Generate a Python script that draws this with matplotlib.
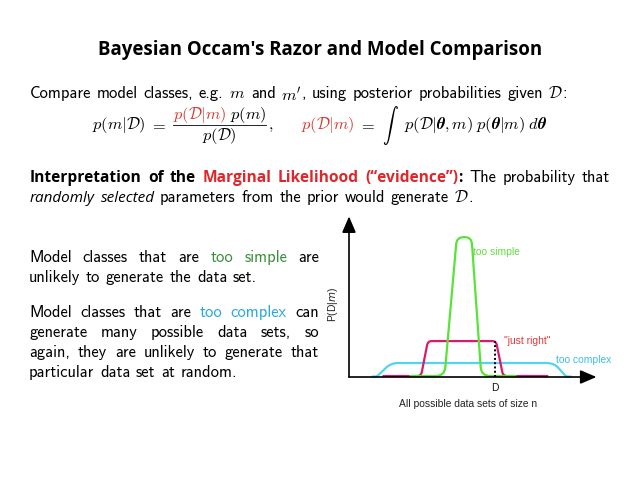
import matplotlib
matplotlib.use("Agg")
import matplotlib.pyplot as plt
from matplotlib.path import Path
from matplotlib.patches import PathPatch

W, H = 638, 493
plt.rcParams['mathtext.fontset'] = 'cm'

# sketch curves, corner points (x: data sets 0-100, y: P(D|m) 0-100)
simple_x = [25, 39, 44, 50, 54, 68]
simple_y = [0.6, 0.6, 88, 88, 0.6, 0.6]
right_x = [14, 29.4, 32.2, 60, 62.9, 81]
right_y = [0.6, 0.6, 22.6, 22.6, 0.6, 0.6]
complex_x = [9.5, 11.4, 17.1, 83.7, 88.6, 90.5]
complex_y = [0.3, 0.3, 8.8, 8.8, 0.3, 0.3]
data_x = 59.6

REG = dict(family='cmss10', fontsize=11.9)
MATH = dict(fontsize=11.9)
BOLD = dict(family='Open Sans', fontweight='bold', fontsize=11.2)
ITAL = dict(family='Open Sans', style='italic', fontsize=11)
RED = '#e0262a'
EQ_RED = '#d63a30'
GREEN_TXT = '#3b8f3b'
BLUE_TXT = '#2aa8dd'

fig = plt.figure(figsize=(W / 100, H / 100), dpi=100)
fig.patch.set_facecolor('white')
renderer = fig.canvas.get_renderer()


def put(x, y, s, **kw):
    dy = kw.pop('dy', 0)
    t = fig.text(x / W, 1 - (y + dy) / H, s, ha='left', va='baseline', **kw)
    return t.get_window_extent(renderer).width


def words_of(segments):
    words, glue = [], False
    for text, props in segments:
        for i, p in enumerate(text.split(' ')):
            if i > 0:
                glue = False
            if p:
                if glue and words:
                    words[-1].append((p, props))
                else:
                    words.append([(p, props)])
                glue = True
    return words


def line(x0, y, segments, x1=None, space=5.6):
    words = words_of(segments)
    # measure first
    widths = []
    for w in words:
        tot = 0
        for p, pr in w:
            pr = {k: v for k, v in pr.items() if k != 'dy'}
            t = fig.text(0, 0, p, **pr)
            tot += t.get_window_extent(renderer).width
            t.remove()
        widths.append(tot)
    gap = space if x1 is None else (x1 - x0 - sum(widths)) / (len(words) - 1)
    x = x0
    for w in words:
        for p, pr in w:
            x += put(x, y, p, **pr)
        x += gap


# title
fig.text(320 / W, 1 - 55 / H, "Bayesian Occam's Razor and Model Comparison",
         ha='center', va='baseline', family='Open Sans', fontweight='bold', fontsize=13.4)

line(30, 98, [("Compare model classes, e.g. ", REG), ("$m$", MATH), (" and ", REG),
              ("$m^{\\prime}$", dict(MATH, dy=3)), (", using posterior probabilities given ", REG),
              ("$\\mathcal{D}$", MATH), (":", REG)])

# left equation, built piece by piece so the numerator can be coloured
EQ = dict(fontsize=11.8)
x = 92
x += put(x, 129, r"$p(m|\mathcal{D})$", **EQ)
x += 5
x += put(x, 129, r"$=$", **EQ)
x_num = x + 6
xn = x_num
xn += put(xn, 119, r"$p(\mathcal{D}|m)$", color=EQ_RED, **EQ)
xn += 3
xn += put(xn, 119, r"$p(m)$", **EQ)
fig.add_artist(plt.Line2D([x_num / W, xn / W], [1 - 124.5 / H, 1 - 124.5 / H],
                          color='k', lw=0.6))
fig.text(((x_num + xn) / 2) / W, 1 - 140 / H, r"$p(\mathcal{D})$",
         ha='center', va='baseline', **EQ)
put(xn + 2, 129, r"$,$", **EQ)

# right equation
x = 301
x += put(x, 129, r"$p(\mathcal{D}|m)$", color=EQ_RED, **EQ)
x += 5
x += put(x, 129, r"$=$", **EQ)
x += 6
x += put(x, 131, r"$\int$", fontsize=11.4)
x += 5
put(x, 129, r"$p(\mathcal{D}|\boldsymbol{\theta},m)\;p(\boldsymbol{\theta}|m)\;d\boldsymbol{\theta}$", **EQ)

# interpretation
line(30, 182, [("Interpretation of the ", BOLD),
               ("Marginal Likelihood (\u201cevidence\u201d)", dict(BOLD, color=RED)),
               (": ", BOLD), ("The probability that", REG)], x1=610)
line(30, 202, [("randomly selected ", ITAL),
               ("parameters from the prior would generate ", REG),
               ("$\\mathcal{D}$", MATH), (".", REG)])

# left paragraph
line(29, 262, [("Model classes that are ", REG), ("too simple", dict(REG, color=GREEN_TXT)),
               (" are", REG)], x1=319)
line(29, 282, [("unlikely to generate the data set.", REG)])
line(29, 317, [("Model classes that are ", REG), ("too complex", dict(REG, color=BLUE_TXT)),
               (" can", REG)], x1=319)
line(29, 337, [("generate many possible data sets, so", REG)], x1=319)
line(29, 357, [("again, they are unlikely to generate that", REG)], x1=319)
line(29, 377, [("particular data set at random.", REG)])

# sketch plot
ax = fig.add_axes([349 / W, 1 - 377 / H, 245 / W, 159 / H])
ax.set_xlim(0, 100)
ax.set_ylim(0, 100)
ax.axis('off')


def rounded(xs, ys, radius):
    pts = ax.transData.transform(list(zip(xs, ys)))
    verts = [pts[0]]
    codes = [Path.MOVETO]
    for i in range(1, len(pts) - 1):
        a, b, c = pts[i - 1], pts[i], pts[i + 1]
        d1 = ((b - a) ** 2).sum() ** 0.5
        d2 = ((c - b) ** 2).sum() ** 0.5
        r = min(radius, 0.48 * d1, 0.48 * d2)
        p1 = b + (a - b) * r / d1
        p2 = b + (c - b) * r / d2
        verts += [p1, b, p2]
        codes += [Path.LINETO, Path.CURVE3, Path.CURVE3]
    verts.append(pts[-1])
    codes.append(Path.LINETO)
    verts = ax.transData.inverted().transform(verts)
    return Path(verts, codes)


for xs, ys, col, r in [(complex_x, complex_y, '#55d2f0', 7),
                       (right_x, right_y, '#d81b6b', 4),
                       (simple_x, simple_y, '#58e33a', 9)]:
    ax.add_patch(PathPatch(rounded(xs, ys, r), fill=False, edgecolor=col,
                           lw=1.6, clip_on=False, capstyle='round'))

ax.plot([data_x, data_x], [0, right_y[2]], color='k', ls=(0, (1, 1.2)), lw=1.4)

arrow = dict(arrowstyle='-|>,head_length=0.7,head_width=0.3', lw=1.2, color='k',
             mutation_scale=14, shrinkA=0, shrinkB=0)
ax.annotate('', xy=(0, 101), xytext=(0, 0), arrowprops=arrow, annotation_clip=False)
ax.annotate('', xy=(101, 0), xytext=(0, 0), arrowprops=arrow, annotation_clip=False)

SMALL = dict(family='Liberation Sans', fontsize=7.4)
ax.text(50.6, 78.6, "too simple", color='#62dd40', va='center', ha='left', **SMALL)
ax.text(63.3, 22.6, '"just right"', color='#e03636', va='center', ha='left', **SMALL)
ax.text(84.5, 10.7, "too complex", color='#3cbde8', va='center', ha='left', **SMALL)
ax.text(data_x, -6.9, "D", va='center', ha='center', color='#111', **SMALL)
ax.text(48.6, -17, "All possible data sets of size n", va='center', ha='center',
        color='#222', **SMALL)
ax.text(-6.5, 45.9, "P(D|$m$)", rotation=90, va='center', ha='center', color='#222',
        math_fontfamily='dejavusans', **SMALL)

fig.savefig('out.png', dpi=100, facecolor='white')
